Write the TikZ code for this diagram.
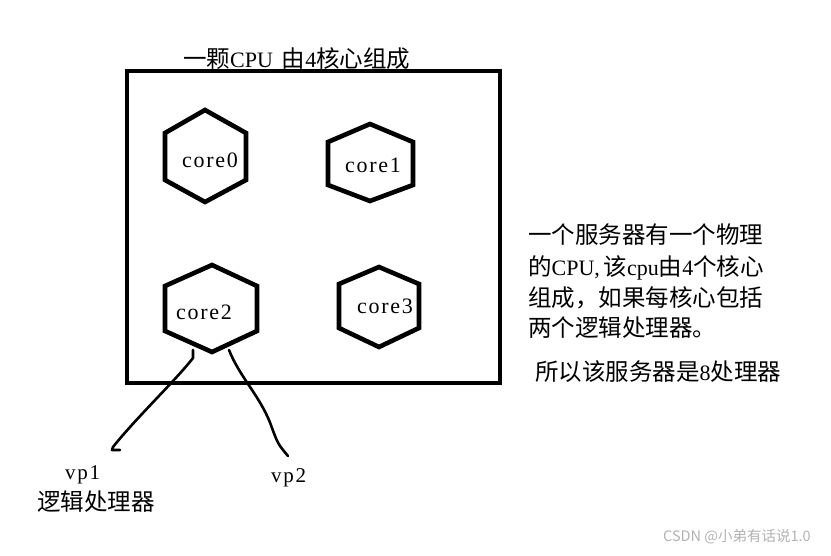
\documentclass[tikz,border=0pt]{standalone}
\usepackage{fontspec}
\setmainfont{Liberation Serif}
\newfontfamily\cjk{Noto Sans CJK SC}
\newfontfamily\latw[LetterSpace=8]{Liberation Serif}
\newcommand\zh[1]{{\cjk\fontsize{23.5}{30}\selectfont #1}}
\begin{document}
\begin{tikzpicture}[x=1pt,y=-1pt,
  txt/.style={inner sep=0pt,anchor=base west,font=\fontsize{22}{26}\selectfont},
  corelabel/.style={inner sep=0pt,anchor=base,font=\latw\fontsize{22}{26}\selectfont},
  hexline/.style={line width=4.6pt,line join=miter},
  boxline/.style={line width=4pt},
  wire/.style={line width=2.6pt,line cap=round,line join=round},
  wmark/.style={inner sep=0pt,anchor=base west,text=black!30,font=\cjk\fontsize{14.5}{16}\selectfont}]
\useasboundingbox (0,0) rectangle (831,556);
% CPU box
\draw[boxline] (126.5,71) rectangle (500,383);
\node[txt] (title) at (183,68) {\zh{一颗}CPU\hspace{9pt}\zh{由}4\zh{核心组成}};
% hexagons
\draw[hexline] (205,110) -- (246,133) -- (246,180) -- (205,202) -- (165,180) -- (165,133) -- cycle;
\draw[hexline] (370,124) -- (413,142) -- (413,185) -- (370,201) -- (328,185) -- (328,142) -- cycle;
\draw[hexline] (212,265) -- (257,286) -- (257,331) -- (212,352) -- (165,331) -- (165,286) -- cycle;
\draw[hexline] (379,267) -- (419,284) -- (419,328) -- (379,347) -- (339,328) -- (339,284) -- cycle;
\node[corelabel] (core0) at (210,168) {core0};
\node[corelabel] (core1) at (373,173) {core1};
\node[corelabel] (core2) at (204,320) {core2};
\node[corelabel] (core3) at (385,314) {core3};
% logical processors
\node[txt,font=\latw\fontsize{21}{24}\selectfont] (vp1) at (65,479) {vp1};
\node[txt,font=\latw\fontsize{21}{24}\selectfont] (vp2) at (271,482) {vp2};
\node[txt] (lp) at (37,510) {\zh{逻辑处理器}};
\coordinate (c1s) at (193,350);
\coordinate (c1e) at (113,447);
\coordinate (c2s) at (229,350);
\coordinate (c2e) at (288,456);
\draw[wire] (c1s) -- ++(0,8) .. controls (176,380) and (136,418) .. (c1e) -- ++(-1,3) -- ++(8,0);
\draw[wire] (c2s) .. controls (240,378) and (262,398) .. (272,428) .. controls (278,444) .. (c2e);
% explanation
\node[txt] (t1) at (528,243.5) {\zh{一个服务器有一个物理}};
\node[txt] (t2) at (528,275.5) {\zh{的}CPU,\,\zh{该}cpu\zh{由}4\zh{个核心}};
\node[txt] (t3) at (528,306.5) {\zh{组成，如果每核心包括}};
\node[txt] (t4) at (528,336.5) {\zh{两个逻辑处理器。}};
\node[txt] (t5) at (535,380.5) {\zh{所以该服务器是}8\zh{处理器}};
% watermark
\node[wmark] (wm) at (663,541) {CSDN @小弟有话说1.0};
\end{tikzpicture}
\end{document}
